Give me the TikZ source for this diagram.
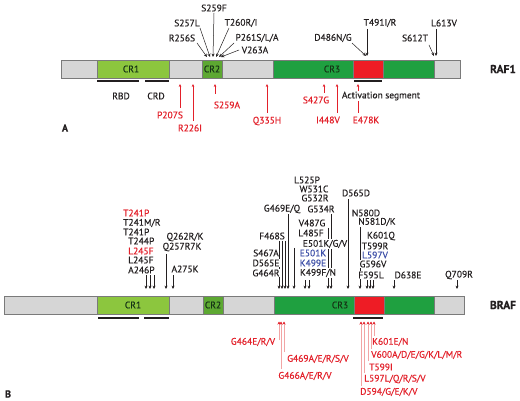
\documentclass[tikz,border=0pt]{standalone}
\usepackage{fontspec}
\setmainfont{PT Sans}[FakeBold=0.35]
\usetikzlibrary{arrows.meta}
\definecolor{ink}{HTML}{231F20}
\definecolor{barGray}{HTML}{D6D6D6}
\definecolor{edge}{HTML}{7A7A7A}
\definecolor{crone}{HTML}{8CC63E}
\definecolor{crtwo}{HTML}{5DA832}
\definecolor{crthree}{HTML}{1FA040}
\definecolor{actred}{HTML}{EE1C25}
\definecolor{crtext}{HTML}{163316}
\definecolor{txtred}{HTML}{E3202A}
\definecolor{txtblue}{HTML}{3D4FA8}
\definecolor{pinkline}{HTML}{F2A5A5}
\begin{document}
\begin{tikzpicture}[x=1pt,y=-1pt,
 lab/.style={inner sep=0pt, font=\fontsize{9.5}{10}\selectfont, text=ink},
 wlab/.style={lab, fill=white, inner sep=0.6pt},
 rlab/.style={lab, text=txtred},
 blab/.style={wlab, text=txtblue},
 crlab/.style={inner sep=0pt, font=\fontsize{9.5}{10}\selectfont, text=crtext},
 seg/.style={draw=edge, line width=0.6pt},
 uline/.style={line width=1.8pt, draw=ink},
 blk/.style={draw=ink, line width=0.5pt, -{Stealth[length=3.4pt,width=3pt]}},
 redarr/.style={draw=txtred, line width=0.5pt, -{Stealth[length=3pt,width=2.6pt]}},
 pinkarr/.style={draw=pinkline, line width=0.9pt, -{Stealth[length=3pt,width=3pt,color=txtred]}},
 title/.style={inner sep=0pt, font=\bfseries\fontsize{11.5}{12}\selectfont, text=ink},
 panel/.style={inner sep=0pt, font=\bfseries\fontsize{10}{10}\selectfont, text=ink}]
\useasboundingbox[fill=white] (0,0) rectangle (520,401);

%% ================= RAF1 =================
\draw[seg, fill=barGray] (61,60) rectangle (460,78);
\draw[seg, fill=crone] (97,60) rectangle (169,78);
\draw[seg, fill=crtwo] (202,60) rectangle (222,78);
\draw[seg, fill=crthree] (273,60) rectangle (434,78);
\draw[seg, fill=actred] (353,60) rectangle (383,78);
\node[crlab] (rcr1) at (131,69) {CR1};
\node[crlab] (rcr2) at (212,69) {CR2};
\node[crlab] (rcr3) at (332,69) {CR3};
\node[title] (raf1) at (503,69) {RAF1};
\node[panel] (pA) at (65,128) {A};

\coordinate (rbdA) at (97,81);  \coordinate (rbdB) at (139,81);
\coordinate (crdA) at (145,81); \coordinate (crdB) at (169,81);
\coordinate (actA) at (354,81); \coordinate (actB) at (382,81);
\draw[uline] (rbdA) -- (rbdB);
\draw[uline] (crdA) -- (crdB);
\draw[uline] (actA) -- (actB);

% top black arrows
\foreach \n/\xa/\ya/\xb/\yb in {a1/197/43/207/57, a2/200/28/210/57, a3/214/13/213/57,
  a4/229/28/216/57, a5/234/43/219/57, a6/239/50/221/57,
  a7/352/43/366/56, a8/367/29/367/56, a9/429/45/434/56, a10/436/29/436/56}
 {\coordinate (s\n) at (\xa,\ya); \coordinate (e\n) at (\xb,\yb); \draw[blk] (s\n) -- (e\n);}

\node[lab] (S259F) at (214,8) {S259F};
\node[lab] (S257L) at (187,23) {S257L};
\node[lab] (T260RI) at (241,23) {T260R/I};
\node[lab] (R256S) at (182,38) {R256S};
\node[lab] (P261S) at (257,38) {P261S/L/A};
\node[lab] (V263A) at (255,50) {V263A};
\node[lab] (D486NG) at (333,38) {D486N/G};
\node[lab] (T491IR) at (380,23) {T491I/R};
\node[lab] (S612T) at (415,38) {S612T};
\node[lab] (L613V) at (444,23) {L613V};

% bottom red arrows
\foreach \n/\x/\ya in {b1/180/108, b2/193/121, b3/215/94, b4/267/113, b5/324/93, b6/337/113, b7/358/113}
 {\coordinate (s\n) at (\x,\ya); \coordinate (e\n) at (\x,84); \draw[redarr] (s\n) -- (e\n);}

\node[lab] (RBD) at (121,96) {RBD};
\node[lab] (CRD) at (156,96) {CRD};
\node[wlab, inner sep=0.3pt] (actseg) at (381,96) {Activation segment};
\node[rlab] (P207S) at (170,115) {P207S};
\node[rlab] (R226I) at (190,128) {R226I};
\node[rlab] (S259A) at (227,105) {S259A};
\node[rlab] (Q335H) at (267,121) {Q335H};
\node[rlab] (S427G) at (316,100) {S427G};
\node[rlab] (I448V) at (328,120) {I448V};
\node[rlab] (E478K) at (366,120) {E478K};

%% ================= BRAF =================
\draw[seg, fill=barGray] (4,296) rectangle (464,314);
\draw[seg, fill=crone] (97,296) rectangle (169,314);
\draw[seg, fill=crtwo] (203,296) rectangle (223,314);
\draw[seg, fill=crthree] (274,296) rectangle (434,314);
\draw[seg, fill=actred] (354,296) rectangle (384,314);
\node[crlab] (bcr1) at (133,305) {CR1};
\node[crlab] (bcr2) at (213,305) {CR2};
\node[crlab] (bcr3) at (340,305) {CR3};
\node[title] (braf) at (503,305) {BRAF};
\node[panel] (pB) at (8,394) {B};

\coordinate (brbdA) at (98,318);  \coordinate (brbdB) at (139,318);
\coordinate (bcrdA) at (144,318); \coordinate (bcrdB) at (169,318);
\coordinate (bactA) at (353,318); \coordinate (bactB) at (383,318);
\draw[uline] (brbdA) -- (brbdB);
\draw[uline] (bcrdA) -- (bcrdB);
\draw[uline] (bactA) -- (bactB);

% top black arrows
\foreach \n/\x/\ya in {c1/146/275, c2/150/275, c3/154/275, c4/166/254, c5/173/275,
  c6/279/241, c7/282/241, c8/285/241, c9/288/214, c10/294/248,
  c11/305/280, c12/309/280, c13/328/228, c14/331/214, c15/348/199,
  c16/360/227, c17/367/280, c18/370/280, c19/373/280, c20/394/280, c21/457/280}
 {\coordinate (s\n) at (\x,\ya); \coordinate (e\n) at (\x,289); \draw[blk] (s\n) -- (e\n);}

\node[rlab, anchor=west] (T241Pa) at (123,213) {T241P};
\node[lab, anchor=west] (T241MR) at (123,223) {T241M/R};
\node[lab, anchor=west] (T241Pb) at (123,232) {T241P};
\node[lab, anchor=west] (T244P) at (128,241) {T244P};
\node[rlab, anchor=west] (L245Fa) at (128,251) {L245F};
\node[lab, anchor=west] (L245Fb) at (128,260) {L245F};
\node[lab, anchor=west] (A246P) at (128,270) {A246P};
\node[lab] (Q262RK) at (185,237) {Q262R/K};
\node[lab] (Q257R7K) at (182,247) {Q257R7K};
\node[lab] (A275K) at (185,269) {A275K};

\node[wlab] (L525P) at (307,180) {L525P};
\node[wlab] (W531C) at (314,189) {W531C};
\node[wlab] (G532R) at (315,198) {G532R};
\node[wlab] (D565D) at (356,193) {D565D};
\node[wlab] (G469EQ) at (282,209) {G469E/Q};
\node[wlab] (G534R) at (321,209) {G534R};
\node[wlab] (N580D) at (366,213) {N580D};
\node[wlab] (N581DK) at (377,222) {N581D/K};
\node[wlab] (V487G) at (312,223) {V487G};
\node[wlab] (L485F) at (311,233) {L485F};
\node[wlab] (F468S) at (272,236) {F468S};
\node[wlab] (K601Q) at (381,236) {K601Q};
\node[wlab] (E501KGV) at (325,244) {E501K/G/V};
\node[wlab] (T599R) at (375,246) {T599R};
\node[wlab] (S467A) at (266,253) {S467A};
\node[blab] (E501K) at (313,253) {E501K};
\node[blab] (L597V) at (375,255) {L597V};
\node[wlab] (D565E) at (266,263) {D565E};
\node[blab] (K499E) at (313,263) {K499E};
\node[wlab] (G596V) at (373,264) {G596V};
\node[wlab] (G464R) at (266,273) {G464R};
\node[wlab] (K499FN) at (318,273) {K499F/N};
\node[wlab] (F595L) at (371,275) {F595L};
\node[lab] (D638E) at (408,275) {D638E};
\node[lab] (Q709R) at (459,275) {Q709R};

% bottom red arrows
\foreach \n/\x/\ya in {d1/279/340, d2/281/369, d3/284/352,
  d4/361/386, d5/364/373, d6/368/361, d7/371/349, d8/374/336}
 {\coordinate (s\n) at (\x,\ya); \coordinate (e\n) at (\x,321.5); \draw[pinkarr] (s\n) -- (e\n);}

\node[rlab] (G464ERV) at (253,342) {G464E/R/V};
\node[rlab] (G469A) at (318,359) {G469A/E/R/S/V};
\node[rlab] (G466A) at (305,376) {G466A/E/R/V};
\node[rlab, anchor=west] (K601EN) at (372,342) {K601E/N};
\node[rlab, anchor=west] (V600A) at (371,355) {V600A/D/E/G/K/L/M/R};
\node[rlab, anchor=west] (T599I) at (369,367) {T599I};
\node[rlab, anchor=west] (L597L) at (364,379) {L597L/Q/R/S/V};
\node[rlab, anchor=west] (D594) at (360,392) {D594/G/E/K/V};
\end{tikzpicture}
\end{document}
